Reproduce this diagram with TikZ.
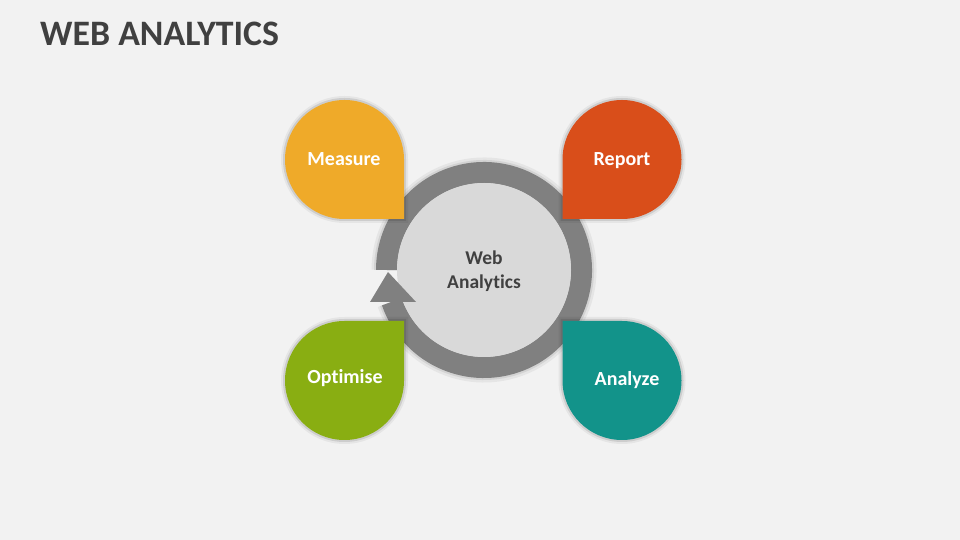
\documentclass[tikz,border=0pt]{standalone}
\usepackage{fontspec}
\setmainfont[Ligatures=CommonOff]{Carlito}
\definecolor{bgcol}{HTML}{F2F2F2}
\definecolor{titlecol}{HTML}{404040}
\definecolor{ringcol}{HTML}{808080}
\definecolor{hubcol}{HTML}{D9D9D9}
\definecolor{measurecol}{HTML}{EFAA29}
\definecolor{reportcol}{HTML}{D94E1A}
\definecolor{optimisecol}{HTML}{89AE12}
\definecolor{analyzecol}{HTML}{12938A}
\tikzset{
  petal/.style={preaction={draw=black,opacity=0.05,line width=8pt},
                preaction={draw=black,opacity=0.10,line width=4pt}},
  petaltext/.style={anchor=base,text=white,font=\bfseries\fontsize{20}{24}\selectfont},
  hubtext/.style={anchor=base,text=titlecol,align=center,font=\bfseries\fontsize{19.5}{24}\selectfont},
}
\begin{document}
\begin{tikzpicture}[x=1pt,y=1pt]
  % Hintergrund
  \fill[bgcol] (0,0) rectangle (960,540);
  \useasboundingbox (0,0) rectangle (960,540);

  % Titel
  \node[anchor=base west, inner sep=0pt, text=titlecol,
        font=\bfseries\fontsize{35.8}{40}\selectfont] (title) at (40,494) {WEB ANALYTICS};

  % Kreislauf
  \coordinate (hub) at (484,270);
  \draw[black, opacity=0.05, line width=30pt] (hub) ++(199:97.5) arc[start angle=199,end angle=540,radius=97.5];
  \draw[black, opacity=0.08, line width=25pt] (hub) ++(199:97.5) arc[start angle=199,end angle=540,radius=97.5];
  \draw[ringcol, line width=21pt] (hub) ++(199:97.5) arc[start angle=199,end angle=540,radius=97.5];
  \fill[hubcol] (hub) circle (87);
  \fill[ringcol] (370,238) -- (416,238) -- (388,268) -- cycle;
  \node[hubtext] (webanalytics) at (484,251) {Web\\Analytics};

  % Measure
  \coordinate (M) at (344.5,380.5);
  \fill[measurecol, petal] (M) ++(0,-59.5) -- ++(59.5,0) -- ++(0,59.5)
    arc[start angle=0,end angle=270,radius=59.5] -- cycle;
  \node[petaltext] (measure) at (344,374) {Measure};

  % Report
  \coordinate (R) at (622,380.5);
  \fill[reportcol, petal] (R) ++(-59.5,0) -- ++(0,-59.5) -- ++(59.5,0)
    arc[start angle=270,end angle=540,radius=59.5] -- cycle;
  \node[petaltext] (report) at (622,374) {Report};

  % Optimise
  \coordinate (O) at (344.5,159.5);
  \fill[optimisecol, petal] (O) ++(59.5,0) -- ++(0,59.5) -- ++(-59.5,0)
    arc[start angle=90,end angle=360,radius=59.5] -- cycle;
  \node[petaltext] (optimise) at (345,156) {Optimise};

  % Analyze
  \coordinate (A) at (622,159.5);
  \fill[analyzecol, petal] (A) ++(0,59.5) -- ++(-59.5,0) -- ++(0,-59.5)
    arc[start angle=180,end angle=450,radius=59.5] -- cycle;
  \node[petaltext] (analyze) at (627,154) {Analyze};
\end{tikzpicture}
\end{document}
